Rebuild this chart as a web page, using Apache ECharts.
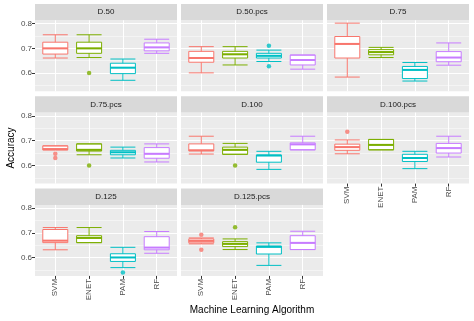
<!DOCTYPE html>
<html><head><meta charset="utf-8">
<script src="https://cdn.jsdelivr.net/npm/echarts@6/dist/echarts.min.js"></script>
<style>html,body{margin:0;padding:0;background:#fff}#c{width:474px;height:321px}</style>
</head><body><div id="c"></div>
<script>
const panels = ['D.50','D.50.pcs','D.75','D.75.pcs','D.100','D.100.pcs','D.125','D.125.pcs'];
const algorithms = ['SVM','ENET','PAM','RF'];
const colors = ['#F8766D','#7CAE00','#00BFC4','#C77CFF'];
// [lower whisker, Q1, median, Q3, upper whisker] per panel
const svmStats = [
  [0.661,0.677,0.700,0.725,0.755],
  [0.601,0.644,0.661,0.688,0.707],
  [0.584,0.661,0.718,0.748,0.802],
  [0.663,0.663,0.666,0.679,0.679],
  [0.646,0.659,0.661,0.687,0.718],
  [0.647,0.661,0.674,0.686,0.703],
  [0.632,0.661,0.669,0.714,0.722],
  [0.656,0.660,0.668,0.676,0.680]];
const enetStats = [
  [0.663,0.680,0.700,0.725,0.755],
  [0.633,0.661,0.676,0.688,0.707],
  [0.663,0.674,0.685,0.695,0.704],
  [0.643,0.658,0.663,0.687,0.687],
  [0.645,0.645,0.663,0.674,0.689],
  [0.663,0.663,0.683,0.705,0.705],
  [0.661,0.661,0.680,0.689,0.722],
  [0.633,0.645,0.656,0.665,0.676]];
const pamStats = [
  [0.571,0.598,0.622,0.640,0.657],
  [0.647,0.661,0.670,0.680,0.693],
  [0.568,0.578,0.613,0.627,0.643],
  [0.630,0.643,0.653,0.661,0.674],
  [0.584,0.613,0.640,0.642,0.657],
  [0.587,0.616,0.630,0.645,0.657],
  [0.560,0.585,0.601,0.616,0.642],
  [0.569,0.615,0.644,0.647,0.660]];
const rfStats = [
  [0.680,0.690,0.704,0.722,0.737],
  [0.616,0.633,0.653,0.673,0.673],
  [0.632,0.646,0.663,0.687,0.722],
  [0.614,0.629,0.647,0.672,0.687],
  [0.663,0.663,0.685,0.691,0.718],
  [0.634,0.650,0.670,0.689,0.718],
  [0.618,0.632,0.641,0.685,0.706],
  [0.633,0.633,0.660,0.689,0.707]];
const svmOutliers = [[],[],[],[0.647,0.630],[],[0.736],[],[0.693,0.632]];
const enetOutliers = [[0.600],[],[],[0.600],[0.600],[],[],[0.723]];
const pamOutliers = [[],[0.711,0.628],[],[],[],[],[0.540],[]];
const rfOutliers = [[],[],[],[],[],[],[],[]];
const yMajor = [0.6,0.7,0.8];
const yMinor = [0.55,0.65,0.75];
const yMin = 0.5265, yMax = 0.8135;

const allStats = [svmStats, enetStats, pamStats, rfStats];
const allOutliers = [svmOutliers, enetOutliers, pamOutliers, rfOutliers];
const catPos = algorithms.map((a,k)=>k+1);

const colLeft = [35, 181, 327], panelW = 142;
const stripTop = [4, 96.3, 188.6], stripH = 16.3, plotH = 71;
const FONT = 'Liberation Sans, Arial, sans-serif';

const grids=[], xAxes=[], yAxes=[], series=[], graphics=[];
panels.forEach((name,i)=>{
  const row = Math.floor(i/3), col = i%3;
  const showX = (i===5 || i===6 || i===7);
  const showY = col===0;
  const left = colLeft[col], top = stripTop[row] + stripH;
  grids.push({left:left, top:top, width:panelW, height:plotH, show:true, backgroundColor:'#EBEBEB', borderWidth:0});
  xAxes.push({type:'value', gridIndex:i, position:'bottom', min:0.4, max:4.6,
    axisLine:{show:false},
    axisTick:{show:showX, length:3, customValues:catPos, lineStyle:{color:'#333333', width:1}},
    axisLabel:{show:showX, customValues:catPos, rotate:90, margin:3, fontSize:8, fontFamily:FONT, color:'#4D4D4D',
      formatter:v=>algorithms[Math.round(v)-1] || ''},
    splitLine:{show:true, lineStyle:{color:'#FFFFFF', width:1}}});
  // minor axis (gridlines only)
  yAxes.push({type:'value', gridIndex:i, position:'left', min:yMin, max:yMax,
    axisLine:{show:false}, axisTick:{show:false, customValues:yMinor},
    axisLabel:{show:false, customValues:yMinor},
    splitLine:{show:true, lineStyle:{color:'#F6F6F6', width:0.8}}});
  // major axis
  yAxes.push({type:'value', gridIndex:i, position:'left', min:yMin, max:yMax,
    axisLine:{show:false},
    axisTick:{show:showY, length:3, customValues:yMajor, lineStyle:{color:'#333333', width:1}},
    axisLabel:{show:showY, customValues:yMajor, margin:3, fontSize:8, fontFamily:FONT, color:'#4D4D4D', formatter:v=>v.toFixed(1)},
    splitLine:{show:true, lineStyle:{color:'#FFFFFF', width:1}}});
  const yIdx = 2*i+1;
  series.push({type:'boxplot', xAxisIndex:i, yAxisIndex:yIdx, boxWidth:[25,25], z:2,
    data: algorithms.map((a,k)=>({value:[catPos[k]].concat(allStats[k][i]),
      itemStyle:{color:'#FFFFFF', borderColor:colors[k], borderWidth:1}}))});
  series.push({type:'custom', xAxisIndex:i, yAxisIndex:yIdx, z:3, silent:true,
    data: algorithms.map((a,k)=>[catPos[k], allStats[k][i][2], k]),
    renderItem:(params, api)=>{
      const x = api.value(0), m = api.value(1), k = api.value(2);
      const p1 = api.coord([x-0.37, m]), p2 = api.coord([x+0.37, m]);
      return {type:'line', shape:{x1:p1[0], y1:p1[1], x2:p2[0], y2:p2[1]}, style:{stroke:colors[k], lineWidth:2}};
    }});
  const pts=[];
  algorithms.forEach((a,k)=>allOutliers[k][i].forEach(v=>pts.push({value:[catPos[k], v], itemStyle:{color:colors[k]}})));
  series.push({type:'scatter', xAxisIndex:i, yAxisIndex:yIdx, z:4, symbolSize:4.5, data:pts});
  graphics.push({type:'rect', x:left, y:stripTop[row], shape:{width:panelW, height:stripH}, style:{fill:'#D9D9D9'}, silent:true});
  graphics.push({type:'text', x:left+panelW/2, y:stripTop[row]+stripH/2, style:{text:name, align:'center', verticalAlign:'middle', fontSize:8, fontFamily:FONT, fill:'#1A1A1A'}, silent:true});
});
graphics.push({type:'text', x:11, y:148, rotation:Math.PI/2, style:{text:'Accuracy', align:'center', verticalAlign:'middle', fontSize:10, fontFamily:FONT, fill:'#000'}});
graphics.push({type:'text', x:252, y:310, style:{text:'Machine Learning Algorithm', align:'center', verticalAlign:'middle', fontSize:10, fontFamily:FONT, fill:'#000'}});

const chart = echarts.init(document.getElementById('c'), null, {renderer:'canvas'});
chart.setOption({animation:false, backgroundColor:'#FFFFFF', grid:grids, xAxis:xAxes, yAxis:yAxes, series:series, graphic:graphics});
</script></body></html>
